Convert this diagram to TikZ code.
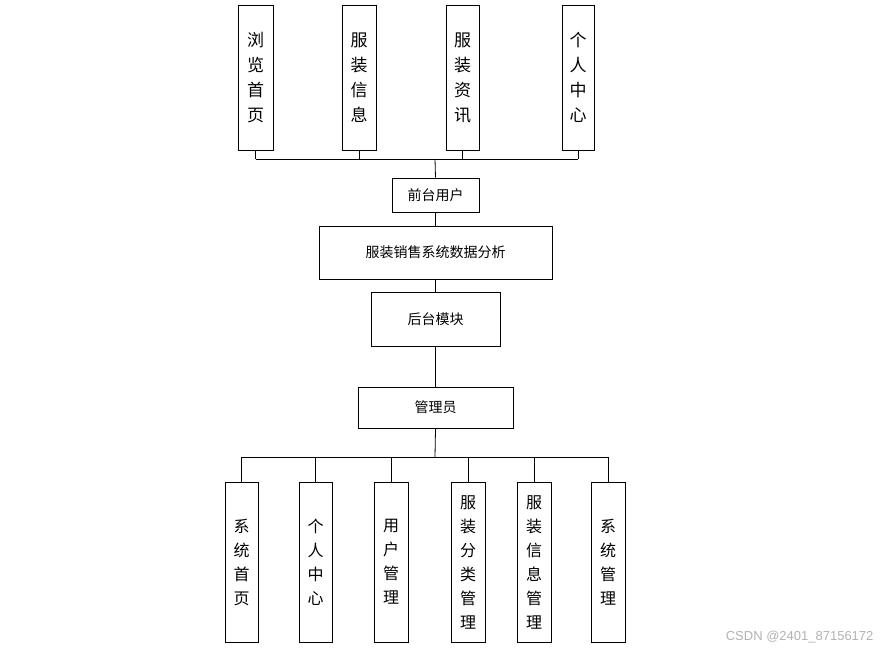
\documentclass[tikz,border=0pt]{standalone}
\usepackage{fontspec}
\newfontfamily\cjk{Noto Sans CJK SC}
\begin{document}
\begin{tikzpicture}[x=1pt,y=-1pt,
  bx/.style={draw=black,line width=0.8pt,fill=white,inner sep=0pt,font=\cjk},
  ln/.style={draw=black,line width=0.8pt}]
\useasboundingbox (0,0) rectangle (880,653);
\newcommand{\vbx}[6]{\node[bx,minimum width=#4-#3,minimum height=#6-#5,font=\cjk\fontsize{17}{25}\selectfont,align=center] (#1) at ({(#3+#4)/2},{(#5+#6)/2}) {#2};}
\newcommand{\vbb}[6]{\node[bx,minimum width=#4-#3,minimum height=#6-#5,font=\cjk\fontsize{16}{24}\selectfont,align=center] (#1) at ({(#3+#4)/2},{(#5+#6)/2}) {#2};}
\newcommand{\wbx}[6]{\node[bx,minimum width=#4-#3,minimum height=#6-#5,font=\cjk\fontsize{14}{18}\selectfont] (#1) at ({(#3+#4)/2},{(#5+#6)/2}) {#2};}
% top
\vbx{t1}{浏\\览\\首\\页}{238}{273}{5}{150}
\vbx{t2}{服\\装\\信\\息}{342}{376}{5}{150}
\vbx{t3}{服\\装\\资\\讯}{446}{479}{5}{150}
\vbx{t4}{个\\人\\中\\心}{562}{594}{5}{150}
\wbx{fu}{前台用户}{392}{479}{178}{212}
\wbx{sys}{服装销售系统数据分析}{319}{552}{226}{279}
\wbx{hm}{后台模块}{371}{500}{292}{346}
\wbx{adm}{管理员}{358}{513}{387}{428}
\vbb{b1}{系\\统\\首\\页}{225}{258}{482}{642}
\vbb{b2}{个\\人\\中\\心}{299}{332}{482}{642}
\vbb{b3}{用\\户\\管\\理}{374}{408}{482}{642}
\vbb{b4}{服\\装\\分\\类\\管\\理}{451}{485}{482}{642}
\vbb{b5}{服\\装\\信\\息\\管\\理}{517}{551}{482}{642}
\vbb{b6}{系\\统\\管\\理}{591}{625}{482}{642}
\coordinate (tj) at (435,159);
\foreach \n in {t1,t2,t3,t4} \draw[ln] (\n.south) -- (\n.south |- tj);
\draw[ln] (t1.south |- tj) -- (t4.south |- tj);
\draw[ln] (tj) -- (fu.north);
\draw[ln] (fu) -- (sys);
\draw[ln] (sys) -- (hm);
\draw[ln] (hm) -- (adm);
\coordinate (bj) at (435,457);
\draw[ln] (adm.south) -- (bj);
\draw[ln] (b1.north |- bj) -- (b6.north |- bj);
\foreach \n in {b1,b2,b3,b4,b5,b6} \draw[ln] (\n.north |- bj) -- (\n.north);
\node[text=gray!60,font=\fontspec{Liberation Sans}\fontsize{13}{15}\selectfont,anchor=east] (wm) at (877,637) {CSDN @2401\_87156172};
\end{tikzpicture}
\end{document}
